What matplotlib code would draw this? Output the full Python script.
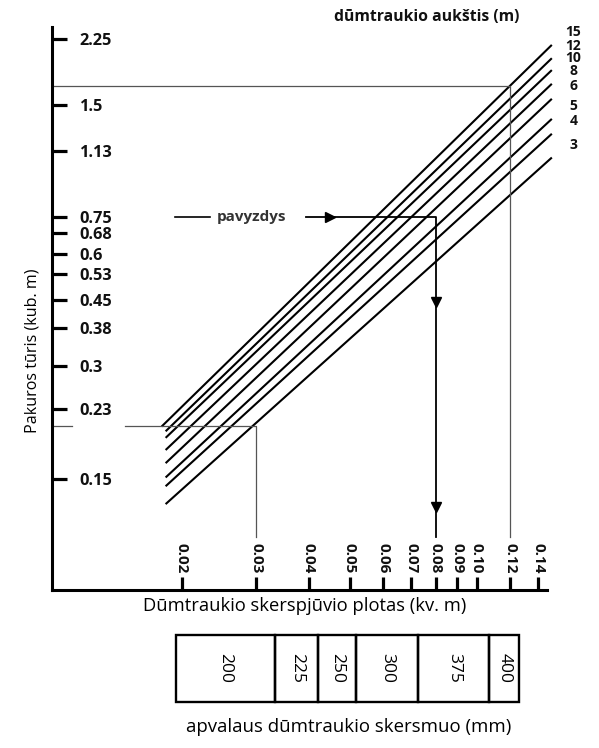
import matplotlib
matplotlib.use('Agg')
import matplotlib.pyplot as plt
from matplotlib.ticker import NullLocator
import numpy as np

plt.rcParams['font.family'] = ['Open Sans', 'DejaVu Sans']

# chimney heights (m) and the line ends
heights = [15, 12, 10, 8, 6, 5, 4, 3]
area_start = [0.0180, 0.0184, 0.0184, 0.0184, 0.0184, 0.0184, 0.0184, 0.0184]
vol_start = [0.208, 0.202, 0.194, 0.180, 0.166, 0.152, 0.144, 0.129]
area_end = [0.150] * 8
vol_end = [2.16, 1.99, 1.85, 1.70, 1.55, 1.37, 1.25, 1.08]

vol_ticks = [2.25, 1.5, 1.13, 0.75, 0.68, 0.6, 0.53, 0.45, 0.38, 0.3, 0.23, 0.15]
vol_labels = ['2.25', '1.5', '1.13', '0.75', '0.68', '0.6', '0.53', '0.45',
              '0.38', '0.3', '0.23', '0.15']
area_ticks = [0.02, 0.03, 0.04, 0.05, 0.06, 0.07, 0.08, 0.09, 0.10, 0.12, 0.14]
area_labels = ['0.02', '0.03', '0.04', '0.05', '0.06', '0.07', '0.08', '0.09',
               '0.10', '0.12', '0.14']

# round flue diameters (mm) and their cell edges on the area scale
diameters = [200, 225, 250, 300, 375, 400]
diam_edges = [0.0194, 0.0333, 0.0421, 0.0518, 0.0727, 0.107, 0.126]

# worked example: 0.75 m3 -> 0.08 m2
ex_vol = 0.75
ex_area = 0.08
# grey reading guides
guide_vol = [1.68, 0.208]
guide_area = [0.12, 0.03]
guide_bottom = 0.105

fig = plt.figure(figsize=(5.99, 7.48), dpi=100)
ax = fig.add_axes([52 / 599, 1 - 590 / 748, 495 / 599, 563.3 / 748])
ax.set_xscale('log')
ax.set_yscale('log')
ax.set_xlim(0.00986, 0.1467)
ax.set_ylim(0.0757, 2.427)
ax.spines['top'].set_visible(False)
ax.spines['right'].set_visible(False)
ax.spines['left'].set_linewidth(2.2)
ax.spines['bottom'].set_linewidth(2.2)
ax.xaxis.set_minor_locator(NullLocator())
ax.yaxis.set_minor_locator(NullLocator())

ax.set_yticks(vol_ticks, labels=vol_labels)
ax.set_xticks(area_ticks, labels=area_labels)
ax.tick_params(axis='y', direction='in', length=10.5, width=2.3, pad=-20,
               labelsize=11.8)
ax.tick_params(axis='x', direction='in', length=9.5, width=2.3, pad=-12,
               labelsize=11)
plt.setp(ax.get_yticklabels(), ha='left', fontweight='bold', color='#111111')
plt.setp(ax.get_xticklabels(), rotation=270, va='bottom', fontweight='bold',
         color='#111111')

# height lines
for h, a0, v0, a1, v1 in zip(heights, area_start, vol_start, area_end, vol_end):
    ax.plot([a0, a1], [v0, v1], color='black', lw=1.5, clip_on=False)
    ax.annotate(str(h), xy=(a1, v1), xytext=(16, 9.5), textcoords='offset points',
                ha='center', va='center', fontsize=10, fontweight='bold',
                color='#111111', annotation_clip=False)

# grey guides
xmin = ax.get_xlim()[0]
ax.plot([xmin, guide_area[0], guide_area[0]], [guide_vol[0], guide_vol[0], guide_bottom],
        color='#555555', lw=0.9)
ax.plot([xmin, 0.0110], [guide_vol[1]] * 2, color='#555555', lw=0.9)
ax.plot([0.0147, guide_area[1], guide_area[1]], [guide_vol[1], guide_vol[1], guide_bottom],
        color='#555555', lw=0.9)

# example path
ax.plot([0.0193, 0.0233], [ex_vol, ex_vol], color='black', lw=1.2)
ax.text(0.0293, ex_vol, 'pavyzdys', ha='center', va='center', fontsize=11,
        fontweight='bold', color='#333333')
ax.plot([0.0393, ex_area, ex_area], [ex_vol, ex_vol, guide_bottom], color='black', lw=1.3)
ax.plot([0.0449], [ex_vol], marker='>', ms=7, color='black', ls='none')
ax.plot([ex_area, ex_area], [0.446, 0.126], marker='v', ms=7, color='black', ls='none')

ax.set_ylabel('Pakuros tūris (kub. m)', fontsize=11.6, va='center')
ax.yaxis.set_label_coords(-0.0394, 0.4245)
ax.set_xlabel('Dūmtraukio skerspjūvio plotas (kv. m)', fontsize=13.2, va='center')
ax.xaxis.set_label_coords(0.511, -0.0284)

fig.text(427 / 599, 1 - 17 / 748, 'dūmtraukio aukštis (m)', ha='center', va='center',
         fontsize=11.3, fontweight='bold', color='#111111')

# diameter strip
bx = fig.add_axes([52 / 599, 1 - 701.7 / 748, 495 / 599, 66.7 / 748])
bx.set_xscale('log')
bx.set_xlim(ax.get_xlim())
bx.set_ylim(0, 1)
bx.axis('off')
lefts = diam_edges[:-1]
widths = np.diff(diam_edges)
bx.bar(lefts, [1] * len(diameters), width=widths, align='edge', fill=False,
       edgecolor='black', linewidth=1.7, clip_on=False)
for d, l, r in zip(diameters, diam_edges[:-1], diam_edges[1:]):
    bx.text(np.sqrt(l * r), 0.5, str(d), rotation=270, ha='center', va='center',
            fontsize=12.5)

fig.text(349 / 599, 1 - 727 / 748, 'apvalaus dūmtraukio skersmuo (mm)', ha='center',
         va='center', fontsize=13.4)

fig.savefig('out.png', dpi=100)
